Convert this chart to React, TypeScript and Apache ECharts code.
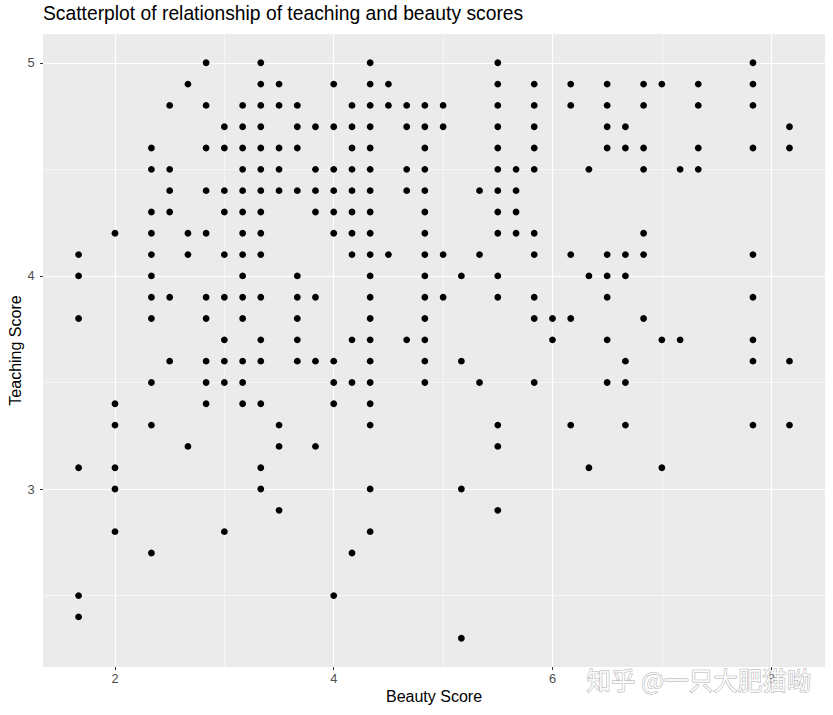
import React, { useEffect, useRef } from "react";
import * as echarts from "echarts";

const beautyLevels = [1.667, 2, 2.333, 2.5, 2.667, 2.833, 3, 3.167, 3.333, 3.5, 3.667, 3.833, 4, 4.167, 4.333, 4.5, 4.667, 4.833, 5, 5.167, 5.333, 5.5, 5.667, 5.833, 6, 6.167, 6.333, 6.5, 6.667, 6.833, 7, 7.167, 7.333, 7.833, 8.167];

const scoresByLevel = [
  [4.1, 4.0, 3.8, 3.1, 2.5, 2.4],
  [4.2, 3.4, 3.3, 3.1, 3.0, 2.8],
  [4.6, 4.5, 4.3, 4.2, 4.1, 4.0, 3.9, 3.8, 3.5, 3.3, 2.7],
  [4.8, 4.5, 4.4, 4.3, 3.9, 3.6],
  [4.9, 4.2, 4.1, 3.2],
  [5.0, 4.8, 4.6, 4.4, 4.2, 3.9, 3.8, 3.6, 3.5, 3.4],
  [4.7, 4.6, 4.4, 4.3, 4.1, 3.9, 3.7, 3.6, 3.5, 2.8],
  [4.8, 4.7, 4.6, 4.5, 4.4, 4.3, 4.2, 4.1, 4.0, 3.9, 3.8, 3.6, 3.5, 3.4],
  [5.0, 4.9, 4.8, 4.7, 4.6, 4.5, 4.4, 4.3, 4.2, 4.1, 3.9, 3.7, 3.6, 3.4, 3.1, 3.0],
  [4.9, 4.8, 4.6, 4.5, 4.4, 3.3, 3.2, 2.9],
  [4.8, 4.7, 4.6, 4.4, 4.0, 3.9, 3.8, 3.7, 3.6],
  [4.7, 4.5, 4.4, 4.3, 3.9, 3.6, 3.2],
  [4.9, 4.7, 4.5, 4.4, 4.3, 4.2, 3.6, 3.5, 3.4, 2.5],
  [4.8, 4.7, 4.6, 4.5, 4.4, 4.3, 4.2, 4.1, 3.7, 3.5, 2.7],
  [5.0, 4.9, 4.8, 4.7, 4.6, 4.5, 4.4, 4.3, 4.2, 4.1, 4.0, 3.9, 3.8, 3.7, 3.6, 3.5, 3.4, 3.3, 3.0, 2.8],
  [4.9, 4.8, 4.1],
  [4.8, 4.7, 4.5, 4.4, 3.7],
  [4.8, 4.7, 4.6, 4.5, 4.4, 4.3, 4.2, 4.1, 4.0, 3.9, 3.8, 3.7, 3.6, 3.5],
  [4.8, 4.7, 4.1, 3.9],
  [4.0, 3.6, 3.0, 2.3],
  [4.4, 4.1, 3.5],
  [5.0, 4.9, 4.8, 4.7, 4.6, 4.5, 4.4, 4.3, 4.2, 4.0, 3.9, 3.3, 3.2, 2.9],
  [4.5, 4.4, 4.3, 4.2],
  [4.9, 4.8, 4.7, 4.6, 4.5, 4.2, 4.1, 3.9, 3.8, 3.5],
  [3.8, 3.7],
  [4.9, 4.8, 4.1, 3.8, 3.3],
  [4.5, 4.0, 3.1],
  [4.9, 4.8, 4.7, 4.6, 4.1, 4.0, 3.9, 3.7, 3.5],
  [4.7, 4.6, 4.1, 4.0, 3.6, 3.5, 3.3],
  [4.9, 4.8, 4.6, 4.5, 4.2, 4.1, 3.8],
  [4.9, 3.7, 3.1],
  [4.5, 3.7],
  [4.9, 4.8, 4.6, 4.5],
  [5.0, 4.9, 4.8, 4.6, 4.1, 3.9, 3.7, 3.6, 3.3],
  [4.7, 4.6, 3.6, 3.3],
];

const xMajorTicks = [2, 4, 6, 8];
const xMinorTicks = [3, 5, 7];
const yMajorTicks = [3, 4, 5];
const yMinorTicks = [2.5, 3.5, 4.5];

const X_RANGE = [1.3417, 8.4917];
const Y_RANGE = [2.165, 5.135];

const FONT = "Liberation Sans, Arial, Helvetica, sans-serif";

export default function App() {
  const ref = useRef<HTMLDivElement>(null);

  useEffect(() => {
    if (!ref.current) return;
    const chart = echarts.init(ref.current, undefined, { renderer: "svg" });

    const points: number[][] = [];
    beautyLevels.forEach((b, i) => {
      scoresByLevel[i].forEach((s) => points.push([b, s]));
    });

    const gridLines: any[] = [];
    xMajorTicks.forEach((v) => gridLines.push({ xAxis: v, lineStyle: { color: "#FFFFFF", width: 1.1, type: "solid" } }));
    xMinorTicks.forEach((v) => gridLines.push({ xAxis: v, lineStyle: { color: "#FFFFFF", width: 0.55, type: "solid" } }));
    yMajorTicks.forEach((v) => gridLines.push({ yAxis: v, lineStyle: { color: "#FFFFFF", width: 1.1, type: "solid" } }));
    yMinorTicks.forEach((v) => gridLines.push({ yAxis: v, lineStyle: { color: "#FFFFFF", width: 0.55, type: "solid" } }));

    chart.setOption({
      animation: false,
      backgroundColor: "#FFFFFF",
      textStyle: { fontFamily: FONT },
      title: {
        text: "Scatterplot of relationship of teaching and beauty scores",
        left: 43,
        top: 4,
        padding: 0,
        textStyle: { fontFamily: FONT, fontSize: 19.3, fontWeight: "normal", color: "#000000" },
      },
      grid: {
        left: 43,
        right: 8,
        top: 34,
        bottom: 48,
        show: true,
        containLabel: false,
        outerBoundsMode: "none",
        backgroundColor: "#EBEBEB",
        borderWidth: 0,
      },
      xAxis: {
        type: "value",
        min: X_RANGE[0],
        max: X_RANGE[1],
        name: "Beauty Score",
        nameLocation: "middle",
        nameGap: 21,
        nameMoveOverlap: false,
        nameTextStyle: { fontFamily: FONT, fontSize: 16, color: "#000000" },
        axisLine: { show: false },
        splitLine: { show: false },
        axisTick: {
          show: true,
          customValues: xMajorTicks,
          length: 3,
          lineStyle: { color: "#333333", width: 1 },
        },
        axisLabel: {
          customValues: xMajorTicks,
          margin: 5,
          fontSize: 12.8,
          color: "#4D4D4D",
          fontFamily: FONT,
        },
      },
      yAxis: {
        type: "value",
        min: Y_RANGE[0],
        max: Y_RANGE[1],
        name: "Teaching Score",
        nameLocation: "middle",
        nameGap: 20,
        nameMoveOverlap: false,
        nameTextStyle: { fontFamily: FONT, fontSize: 16, color: "#000000" },
        axisLine: { show: false },
        splitLine: { show: false },
        axisTick: {
          show: true,
          customValues: yMajorTicks,
          length: 3,
          lineStyle: { color: "#333333", width: 1 },
        },
        axisLabel: {
          customValues: yMajorTicks,
          margin: 8.5,
          fontSize: 12.8,
          color: "#4D4D4D",
          fontFamily: FONT,
        },
      },
      series: [
        {
          type: "scatter",
          data: [],
          silent: true,
          z: 1,
          markLine: {
            silent: true,
            symbol: "none",
            z: 1,
            label: { show: false },
            emphasis: { disabled: true },
            data: gridLines,
          },
        },
        {
          type: "scatter",
          z: 5,
          data: points,
          symbol: "circle",
          symbolSize: 6.8,
          itemStyle: { color: "#000000", opacity: 1 },
        },
      ],
      graphic: [
        {
          type: "text",
          left: 586,
          top: 667,
          z: 100,
          style: {
            text: "知乎 @一只大肥猫呦",
            font: '24.5px "Noto Sans CJK SC", sans-serif',
            fill: "rgba(255,255,255,0.9)",
            stroke: "rgba(150,150,150,0.8)",
            lineWidth: 1,
          },
        },
      ],
    });

    return () => chart.dispose();
  }, []);

  return (
    <div
      ref={ref}
      style={{ position: "fixed", left: 0, top: 0, width: 833, height: 715 }}
    />
  );
}
